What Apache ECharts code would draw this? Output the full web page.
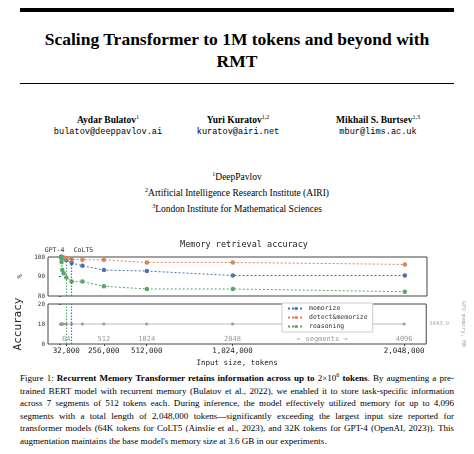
<!DOCTYPE html>
<html>
<head>
<meta charset="utf-8">
<script src="https://cdn.jsdelivr.net/npm/echarts@6/dist/echarts.min.js"></script>
<style>
    body { margin: 0; width: 474px; height: 454px; background: #fff; font-family: "Liberation Serif", "DejaVu Serif", serif; position: relative; overflow: hidden; }
    .abs { position: absolute; }
    .rule { left: 20px; width: 434px; background: #000; }
    .title { left: 0; width: 474px; text-align: center; font-family: "Liberation Serif", serif; font-weight: bold; font-size: 17.5px; line-height: 22px; top: 28px; }
    .author { text-align: center; width: 140px; font-size: 9.5px; font-family: "Liberation Serif", serif; }
    .author b { font-family: "Liberation Serif", serif; }
    .author tt { font-family: "Liberation Mono", monospace; font-size: 8.6px; display: block; margin-top: 2px; }
    .aff { left: 0; width: 474px; text-align: center; font-size: 9.5px; line-height: 13px; top: 168px; }
    .caption { left: 20px; width: 434px; top: 369px; font-size: 9.05px; line-height: 12.6px; text-align: justify; }
    sup { font-size: 6px; }
    #chart { left: 0; top: 230px; width: 474px; height: 138px; }
</style>
</head>
<body>
<div class="abs rule" style="top:8px;height:4px"></div>
<div class="abs title">Scaling Transformer to 1M tokens and beyond with<br>RMT</div>
<div class="abs rule" style="top:83px;height:1px"></div>
<div class="abs author" style="left:38px;top:114px"><b>Aydar Bulatov</b><sup>1</sup><tt>bulatov@deeppavlov.ai</tt></div>
<div class="abs author" style="left:168px;top:114px"><b>Yuri Kuratov</b><sup>1,2</sup><tt>kuratov@airi.net</tt></div>
<div class="abs author" style="left:308px;top:114px"><b>Mikhail S. Burtsev</b><sup>1,3</sup><tt>mbur@lims.ac.uk</tt></div>
<div class="abs aff"><sup>1</sup>DeepPavlov<br><sup>2</sup>Artificial Intelligence Research Institute (AIRI)<br><sup>3</sup>London Institute for Mathematical Sciences</div>
<div class="abs" id="chart"></div>
<div class="abs caption">Figure 1: <b>Recurrent Memory Transformer retains information across up to</b> 2×10<sup>6</sup> <b>tokens</b>. By augmenting a pre-trained BERT model with recurrent memory (Bulatov et al., 2022), we enabled it to store task-specific information across 7 segments of 512 tokens each. During inference, the model effectively utilized memory for up to 4,096 segments with a total length of 2,048,000 tokens—significantly exceeding the largest input size reported for transformer models (64K tokens for CoLT5 (Ainslie et al., 2023), and 32K tokens for GPT-4 (OpenAI, 2023)). This augmentation maintains the base model's memory size at 3.6 GB in our experiments.</div>
<script>
const segments = [1, 2, 4, 8, 16, 32, 64, 128, 256, 512, 1024, 2048, 4096];
const tokensPerSegment = 500;
const memorize = [100, 100, 100, 100, 99.8, 99.5, 98.5, 96.9, 95.5, 93.3, 92.8, 90.5, 90.5];
const detectMemorize = [100, 100, 100, 100, 100, 99.8, 99.3, 98.8, 98.6, 98.6, 97.2, 97.2, 96.2];
const reasoning = [100, 100, 99.5, 97.4, 93.3, 91.7, 89.5, 87.4, 87.4, 85.0, 83.6, 83.6, 82.2];
const gpuMemory = [3643.9, 3643.9, 3643.9, 3643.9, 3643.9, 3643.9, 3643.9, 3643.9, 3643.9, 3643.9, 3643.9, 3643.9, 3643.9];
const tokenTicks = [32000, 256000, 512000, 1024000, 2048000];
const segmentTicks = [32000, 256000, 512000, 1024000, 1560000, 2048000];
const segmentLabels = ["64", "512", "1024", "2048", "← segments →", "4096"];
const modelLines = [
    { name: "GPT-4", x: 32000, color: "#55a868", align: "right" },
    { name: "CoLT5", x: 64000, color: "#4c72b0", align: "left" }
];

const mono = "DejaVu Sans Mono";
const tokens = segments.map(s => s * tokensPerSegment);
const pairs = vals => tokens.map((t, i) => [t, vals[i]]);
const chart = echarts.init(document.getElementById("chart"));

const xBase = {
    type: "value", min: -77000, max: 2180000,
    splitLine: { show: false },
    axisLine: { show: false }
};
const vline = (grid) => ({
    symbol: "none", silent: true,
    data: modelLines.map(m => ({
        name: m.name, xAxis: m.x,
        lineStyle: { color: m.color, type: [1.5, 1.5], width: 1.2 },
        label: grid === 0
            ? { show: true, position: "end", formatter: m.name, fontFamily: mono, fontSize: 6.5, color: "#333",
                distance: 3, align: m.align, padding: m.align === "right" ? [0, 2, 0, 0] : [0, 0, 0, 2] }
            : { show: false }
    }))
});
const lineSeries = (name, vals, color, withMark) => [
    { name, type: "line", xAxisIndex: 0, yAxisIndex: 0, data: pairs(vals), symbol: "circle", symbolSize: 4.5,
      lineStyle: { color, type: [2, 2], width: 1 }, itemStyle: { color }, markLine: withMark ? vline(0) : undefined },
    { name, type: "line", xAxisIndex: 1, yAxisIndex: 1, data: pairs(vals), symbol: "circle", symbolSize: 4.5,
      lineStyle: { color, type: [2, 2], width: 1 }, itemStyle: { color } }
];

chart.setOption({
    animation: false,
    textStyle: { fontFamily: mono },
    title: { text: "Memory retrieval accuracy", left: 239, top: 5, textAlign: "center",
             textStyle: { fontFamily: mono, fontSize: 8.5, fontWeight: "normal", color: "#222" } },
    grid: [
        { left: 48, right: 47, top: 27, height: 39, show: true, borderColor: "#444", borderWidth: 1 },
        { left: 48, right: 47, top: 74, height: 41, show: true, borderColor: "#444", borderWidth: 1 }
    ],
    legend: {
        data: ["memorize", "detect&memorize", "reasoning"], orient: "vertical", left: 282, top: 73,
        itemWidth: 16, itemHeight: 4, itemGap: 2, padding: [2, 5], borderColor: "#ccc", borderWidth: 1,
        backgroundColor: "#fff", textStyle: { fontFamily: mono, fontSize: 6.5, color: "#333" }
    },
    xAxis: [
        Object.assign({}, xBase, { gridIndex: 0, axisTick: { show: false }, axisLabel: { show: false } }),
        Object.assign({}, xBase, {
            gridIndex: 1, name: "Input size, tokens", nameLocation: "middle", nameGap: 15,
            nameTextStyle: { fontFamily: mono, fontSize: 7.5, color: "#222" },
            axisTick: { show: true, customValues: tokenTicks, length: 2, lineStyle: { color: "#444" } },
            axisLabel: { customValues: tokenTicks, fontFamily: mono, fontSize: 7.5, color: "#222", margin: 3,
                         formatter: v => v.toLocaleString("en-US") }
        }),
        Object.assign({}, xBase, {
            gridIndex: 1, position: "bottom", axisTick: { show: false },
            axisLabel: { inside: true, customValues: segmentTicks, fontFamily: mono, fontSize: 7, color: "#999", margin: 1,
                         formatter: v => segmentLabels[segmentTicks.indexOf(v)] }
        })
    ],
    yAxis: [
        { type: "value", gridIndex: 0, min: 80, max: 100, interval: 10, name: "%", nameLocation: "middle", nameGap: 22,
          nameRotate: 90, nameTextStyle: { fontSize: 7, color: "#333" }, splitLine: { show: false },
          axisTick: { show: true, length: 2 }, axisLine: { show: false },
          axisLabel: { fontFamily: mono, fontSize: 6, color: "#333", margin: 3 } },
        { type: "value", gridIndex: 1, min: 0, max: 20, interval: 10, name: "Accuracy", nameLocation: "middle", nameGap: 24,
          nameRotate: 90, nameTextStyle: { fontSize: 11, color: "#222" }, splitLine: { show: false },
          axisTick: { show: true, length: 2 }, axisLine: { show: false },
          axisLabel: { fontFamily: mono, fontSize: 6, color: "#333", margin: 3 } },
        { type: "value", gridIndex: 1, position: "right", min: 0, max: 7287.8, name: "GPU memory, MB", nameLocation: "middle",
          nameGap: 24, nameRotate: -90, nameTextStyle: { fontSize: 5.5, color: "#aaa" }, splitLine: { show: false },
          axisLine: { show: false }, axisTick: { show: false },
          axisLabel: { customValues: [3643.9], fontFamily: mono, fontSize: 5.5, color: "#aaa", margin: 3, formatter: v => v.toFixed(1) } }
    ],
    series: [
        ...lineSeries("memorize", memorize, "#4c72b0", true),
        ...lineSeries("detect&memorize", detectMemorize, "#dd8452", false),
        ...lineSeries("reasoning", reasoning, "#55a868", false),
        { name: "GPU memory", type: "line", xAxisIndex: 1, yAxisIndex: 2, data: pairs(gpuMemory), symbol: "circle", symbolSize: 3,
          lineStyle: { color: "#aaa", width: 0.8 }, itemStyle: { color: "#999" }, z: 1, markLine: vline(1) }
    ]
});
</script>
</body>
</html>
